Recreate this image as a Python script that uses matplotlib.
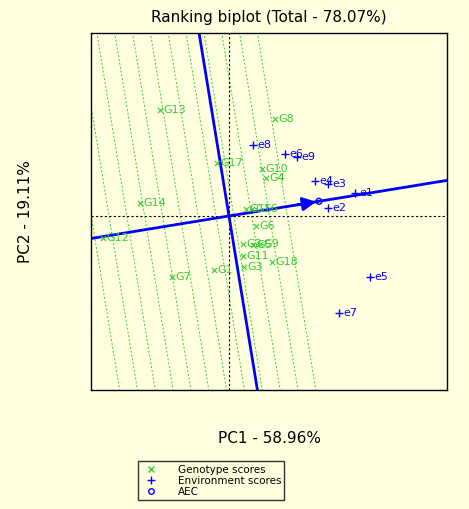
import matplotlib
matplotlib.use("Agg")
import matplotlib.pyplot as plt
import numpy as np

gen_names = ["G1","G2","G3","G4","G5","G6","G7","G8","G9","G10","G11","G12","G13","G14","G15","G16","G17","G18"]
gen_x = [-0.15,0.14,0.15,0.37,0.24,0.27,-0.57,0.46,0.31,0.33,0.14,-1.26,-0.69,-0.89,0.17,0.23,-0.12,0.43]
gen_y = [-0.54,-0.28,-0.51,0.38,-0.29,-0.10,-0.61,0.97,-0.28,0.47,-0.40,-0.22,1.06,0.13,0.07,0.07,0.53,-0.46]
env_names = ["e1","e2","e3","e4","e5","e6","e7","e8","e9"]
env_x = [1.26,0.99,0.99,0.86,1.41,0.56,1.10,0.24,0.68]
env_y = [0.23,0.08,0.32,0.35,-0.61,0.62,-0.97,0.71,0.59]
aec = (0.90, 0.147)

bg = "#FFFFE0"
fig = plt.figure(figsize=(4.69,5.09), dpi=100, facecolor=bg)
ax = fig.add_axes([0.194,0.234,0.759,0.701], facecolor=bg)
xl = (-1.38, 2.18); yl = (-1.74, 1.83)
ax.set_xlim(xl); ax.set_ylim(yl)

d = np.array(aec) / np.hypot(*aec)
perp = np.array([-d[1], d[0]])
t = np.linspace(-10, 10, 2)
# evenly spaced dashed perpendicular lines across the genotype range
for off in np.arange(-1.36, 0.75, 0.176):
    p = off * d
    ax.plot(p[0]+t*perp[0], p[1]+t*perp[1], color="#33CC33", ls=(0,(2,2)), lw=0.7)
ax.axhline(0, color="black", ls=(0,(2,2)), lw=0.8)
ax.axvline(0, color="black", ls=(0,(2,2)), lw=0.8)
ax.plot(t*d[0], t*d[1], color="blue", lw=2)
ax.plot(t*perp[0], t*perp[1], color="blue", lw=2)
ax.annotate("", xy=aec, xytext=(aec[0]-0.25*d[0], aec[1]-0.25*d[1]),
            arrowprops=dict(arrowstyle="-|>", color="blue", lw=2, mutation_scale=20))
ax.scatter([aec[0]], [aec[1]], marker="o", facecolors="none", edgecolors="blue", s=18, zorder=5)

ax.scatter(gen_x, gen_y, marker="x", color="#33CC33", s=14, lw=0.8, zorder=4)
for n, x, y in zip(gen_names, gen_x, gen_y):
    ax.text(x+0.03, y, n, color="#33CC33", fontsize=8, va="center", ha="left")
ax.scatter(env_x, env_y, marker="+", color="blue", s=30, lw=1, zorder=4)
for n, x, y in zip(env_names, env_x, env_y):
    ax.text(x+0.04, y, n, color="blue", fontsize=8, va="center", ha="left")

ax.set_xticks([]); ax.set_yticks([])
for s in ax.spines.values():
    s.set_color("black"); s.set_linewidth(1)
fig.text(0.574, 0.965, "Ranking biplot (Total - 78.07%)", ha="center", va="center", fontsize=11)
fig.text(0.574, 0.138, "PC1 - 58.96%", ha="center", va="center", fontsize=11)
fig.text(0.055, 0.585, "PC2 - 19.11%", ha="center", va="center", fontsize=11, rotation=90)

from matplotlib.lines import Line2D
h = [Line2D([],[],ls="", marker="x", color="#33CC33", ms=4),
     Line2D([],[],ls="", marker="+", color="blue", ms=6),
     Line2D([],[],ls="", marker="o", mfc="none", mec="blue", ms=4)]
leg = fig.legend(h, ["Genotype scores","Environment scores","AEC"], loc="lower left",
                 bbox_to_anchor=(0.283, 0.008), fontsize=7.5, frameon=True, fancybox=False,
                 borderpad=0.3, labelspacing=0.1, handletextpad=1.5, facecolor=bg, edgecolor="black")
fig.savefig("out.png", dpi=100, facecolor=bg)
